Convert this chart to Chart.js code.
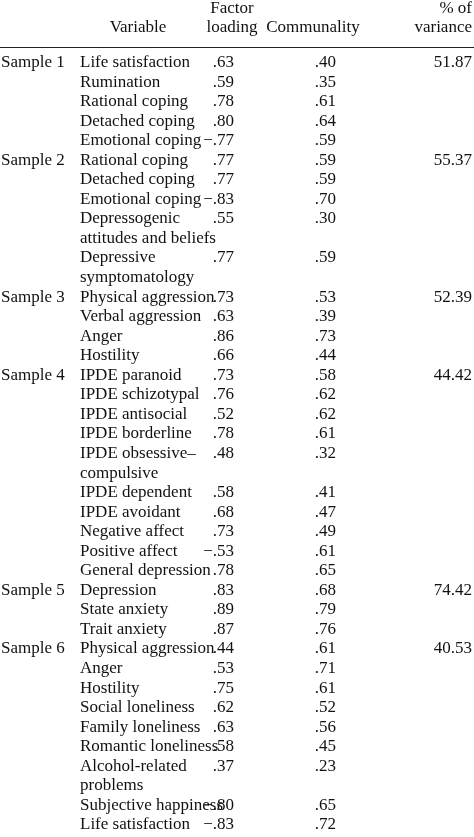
<!DOCTYPE html>
<html>
<head>
<meta charset="utf-8">
<script src="https://cdn.jsdelivr.net/npm/chart.js@4"></script>
<style>
  body { margin: 0; background: #fff; }
  canvas { display: block; }
</style>
</head>
<body>
<canvas id="tableChart" width="474" height="837"></canvas>
<script>
// Table data
const samples = ['Sample 1', 'Sample 2', 'Sample 3', 'Sample 4', 'Sample 5', 'Sample 6'];
const variance = ['51.87', '55.37', '52.39', '44.42', '74.42', '40.53'];
// each variable: sample index, label lines
const sampleOf = [0,0,0,0,0, 1,1,1,1,1, 2,2,2,2, 3,3,3,3,3,3,3,3,3,3, 4,4,4, 5,5,5,5,5,5,5,5,5];
const variables = [
  ['Life satisfaction'], ['Rumination'], ['Rational coping'], ['Detached coping'], ['Emotional coping'],
  ['Rational coping'], ['Detached coping'], ['Emotional coping'], ['Depressogenic', 'attitudes and beliefs'], ['Depressive', 'symptomatology'],
  ['Physical aggression'], ['Verbal aggression'], ['Anger'], ['Hostility'],
  ['IPDE paranoid'], ['IPDE schizotypal'], ['IPDE antisocial'], ['IPDE borderline'], ['IPDE obsessive\u2013', 'compulsive'],
  ['IPDE dependent'], ['IPDE avoidant'], ['Negative affect'], ['Positive affect'], ['General depression'],
  ['Depression'], ['State anxiety'], ['Trait anxiety'],
  ['Physical aggression'], ['Anger'], ['Hostility'], ['Social loneliness'], ['Family loneliness'],
  ['Romantic loneliness'], ['Alcohol-related', 'problems'], ['Subjective happiness'], ['Life satisfaction']
];
const loadings = [.63, .59, .78, .80, -.77, .77, .77, -.83, .55, .77, .73, .63, .86, .66,
  .73, .76, .52, .78, .48, .58, .68, .73, -.53, .78, .83, .89, .87,
  .44, .53, .75, .62, .63, .58, .37, -.80, -.83];
const communality = [.40, .35, .61, .64, .59, .59, .59, .70, .30, .59, .53, .39, .73, .44,
  .58, .62, .62, .61, .32, .41, .47, .49, .61, .65, .68, .79, .76,
  .61, .71, .61, .52, .56, .45, .23, .65, .72];

function fmt(v) {
  const s = Math.abs(v).toFixed(2).replace(/^0/, '');
  return (v < 0 ? '\u2212' : '') + s;
}

const tablePlugin = {
  id: 'tableText',
  afterDraw(chart) {
    const c = chart.ctx, x = chart.scales.x, y = chart.scales.y;
    const X = v => x.getPixelForValue(v), Y = v => y.getPixelForValue(v);
    c.save();
    c.fillStyle = '#111';
    c.font = '17px "Liberation Serif", "DejaVu Serif", serif';
    c.textBaseline = 'middle';
    // header
    c.textAlign = 'center';
    c.fillText('Variable', X(138), Y(28));
    c.fillText('Factor', X(232), Y(9));
    c.fillText('loading', X(232), Y(28));
    c.fillText('Communality', X(313), Y(28));
    c.textAlign = 'right';
    c.fillText('% of', X(472), Y(9));
    c.fillText('variance', X(472), Y(28));
    // rules
    c.strokeStyle = '#222';
    c.lineWidth = 1;
    c.beginPath();
    c.moveTo(X(0), Y(47.5)); c.lineTo(X(474), Y(47.5));
    c.stroke();
    // body
    let line = 0, prev = -1;
    const step = 19.55, top = 62.5;
    variables.forEach((lab, i) => {
      const yy = top + line * step;
      c.textAlign = 'left';
      if (sampleOf[i] !== prev) {
        prev = sampleOf[i];
        c.fillText(samples[prev], X(1), Y(yy));
        c.textAlign = 'right';
        c.fillText(variance[prev], X(472), Y(yy));
      }
      c.textAlign = 'left';
      lab.forEach((t, k) => c.fillText(t, X(80), Y(yy + k * step)));
      c.textAlign = 'right';
      c.fillText(fmt(loadings[i]), X(234), Y(yy));
      c.fillText(fmt(communality[i]), X(336), Y(yy));
      line += lab.length;
    });
    c.restore();
  }
};

new Chart(document.getElementById('tableChart').getContext('2d'), {
  type: 'scatter',
  data: { datasets: [{ data: [] }] },
  options: {
    responsive: false,
    animation: false,
    layout: { padding: 0 },
    plugins: { legend: { display: false }, tooltip: { enabled: false } },
    scales: {
      x: { type: 'linear', min: 0, max: 474, display: false },
      y: { type: 'linear', min: 0, max: 837, reverse: true, display: false }
    }
  },
  plugins: [tablePlugin]
});
</script>
</body>
</html>
